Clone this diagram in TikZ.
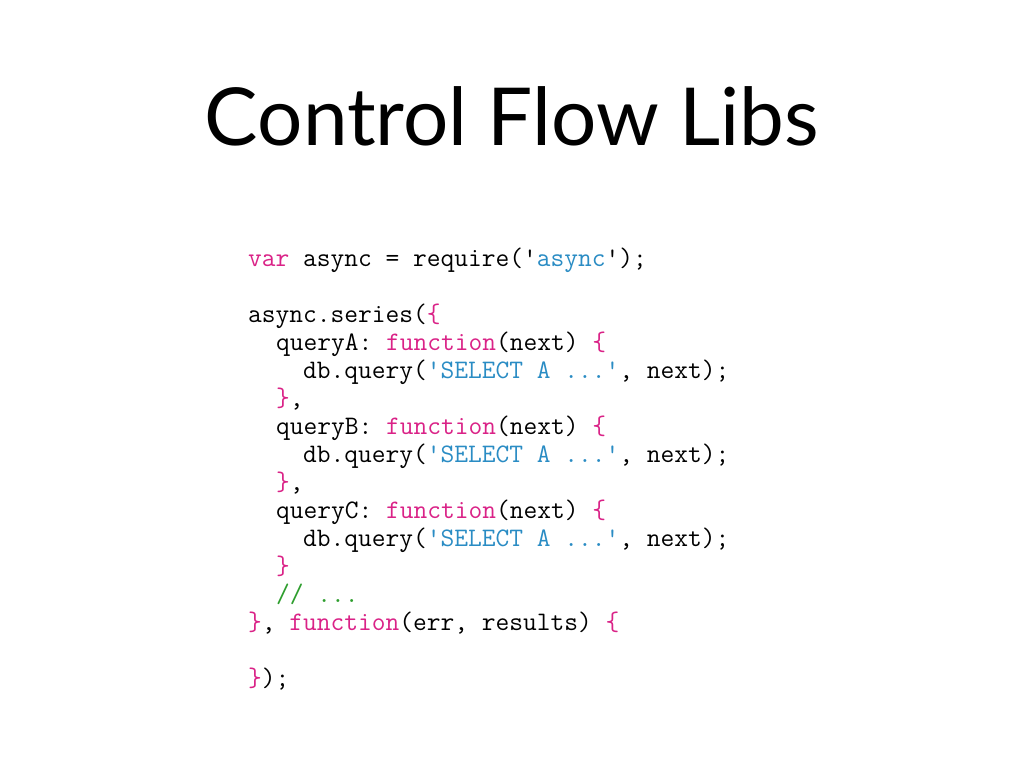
\documentclass[tikz,border=0pt]{standalone}
\usepackage{fontspec}
\setsansfont{Lato}
\usepackage{tikz}
\definecolor{keyword}{HTML}{DA2287}
\definecolor{string}{HTML}{2A8CC4}
\definecolor{comment}{HTML}{2E9E2E}
\newcommand{\kw}[1]{\textcolor{keyword}{#1}}
\newcommand{\str}[1]{\textcolor{string}{#1}}
\newcommand{\cmt}[1]{\textcolor{comment}{#1}}
\tikzstyle{Title}=[anchor=base, inner sep=0, text=black, font=\sffamily\fontsize{80}{80}\selectfont]
\tikzstyle{Code}=[anchor=base west, inner sep=0, text=black, font=\ttfamily\fontsize{26.7}{28}\selectfont]

\begin{document}
\begin{tikzpicture}[x=1pt, y=-1pt]
	\fill [white] (0,0) rectangle (1024,768);
	\useasboundingbox (0,0) rectangle (1024,768);
	\node [style=Title] (title) at (512, 145) {Control Flow Libs};

	% code lines
	\node [style=Code] (require) at (248, 266) {\kw{var} async = require('\str{async}');};
	\node [style=Code] (series) at (248, 322) {async.series(\kw{\{}};
	\node [style=Code] (queryA) at (276, 350) {queryA: \kw{function}(next) \kw{\{}};
	\node [style=Code] (dbA) at (303, 378) {db.query(\str{'SELECT A ...'}, next);};
	\node [style=Code] (endA) at (276, 406) {\kw{\}},};
	\node [style=Code] (queryB) at (276, 434) {queryB: \kw{function}(next) \kw{\{}};
	\node [style=Code] (dbB) at (303, 462) {db.query(\str{'SELECT A ...'}, next);};
	\node [style=Code] (endB) at (276, 490) {\kw{\}},};
	\node [style=Code] (queryC) at (276, 518) {queryC: \kw{function}(next) \kw{\{}};
	\node [style=Code] (dbC) at (303, 546) {db.query(\str{'SELECT A ...'}, next);};
	\node [style=Code] (endC) at (276, 574) {\kw{\}}};
	\node [style=Code] (more) at (276, 602) {\cmt{// ...}};
	\node [style=Code] (callback) at (248, 630) {\kw{\}}, \kw{function}(err, results) \kw{\{}};
	\node [style=Code] (close) at (248, 686) {\kw{\}});};
\end{tikzpicture}
\end{document}
